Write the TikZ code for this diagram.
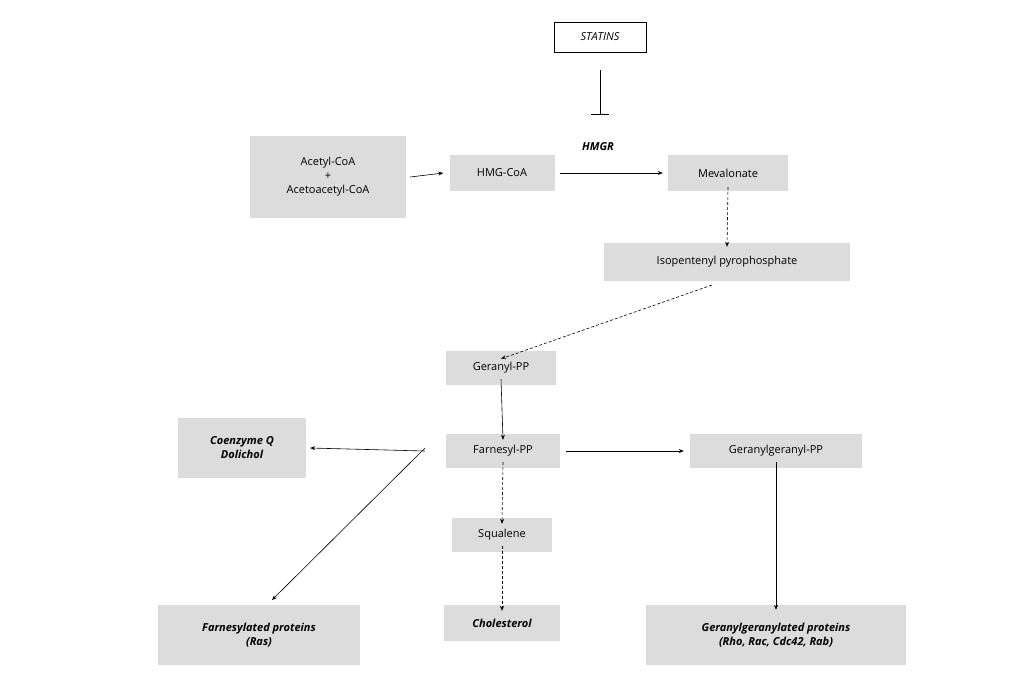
\documentclass[tikz,border=0pt]{standalone}
\usepackage{fontspec}
\setmainfont{Open Sans}
\usetikzlibrary{arrows.meta}
\definecolor{boxgray}{HTML}{DCDCDC}
\begin{document}
\begin{tikzpicture}[x=1pt,y=-1pt,
  mol/.style={fill=boxgray,inner sep=0pt,align=center,font=\fontsize{11}{14}\selectfont},
  emph/.style={font=\fontsize{11}{14}\selectfont\bfseries\itshape},
  arr/.style={-{Stealth[length=5pt,width=4pt]},line width=0.6pt},
  darr/.style={arr,dashed,dash pattern=on 3pt off 2pt}]
\useasboundingbox (0,0) rectangle (1024,675);
\node[draw,line width=0.6pt,minimum width=92pt,minimum height=30pt,font=\fontsize{11}{14}\selectfont\itshape] (statins) at (600,37) {STATINS};
\coordinate (inhtop) at (600,70);
\coordinate (inhbot) at (600,115);
\draw[line width=0.6pt,-{Bar[width=18pt]}] (inhtop) -- (inhbot);
\node[emph] (hmgr) at (598,147) {HMGR};
\node[mol,minimum width=156pt,minimum height=82pt] (acetyl) at (328,177) {Acetyl-CoA\\+\\Acetoacetyl-CoA};
\node[mol,minimum width=105pt,minimum height=36pt] (hmg) at (502,173) {HMG-CoA};
\node[mol,minimum width=120pt,minimum height=36pt] (mev) at (728,173) {Mevalonate};
\node[mol,minimum width=246pt,minimum height=38pt] (iso) at (727,262) {Isopentenyl pyrophosphate};
\node[mol,minimum width=110pt,minimum height=34pt] (ger) at (501,368) {Geranyl-PP};
\node[mol,minimum width=114pt,minimum height=34pt] (far) at (503,451) {Farnesyl-PP};
\node[mol,emph,minimum width=128pt,minimum height=60pt] (coq) at (242,448) {Coenzyme Q\\Dolichol};
\node[mol,minimum width=172pt,minimum height=34pt] (ggpp) at (776,451) {Geranylgeranyl-PP};
\node[mol,minimum width=100pt,minimum height=34pt] (squ) at (502,535) {Squalene};
\node[mol,emph,minimum width=202pt,minimum height=60pt] (farp) at (259,635) {Farnesylated proteins\\(Ras)};
\node[mol,emph,minimum width=116pt,minimum height=36pt] (chol) at (502,623) {Cholesterol};
\node[mol,emph,minimum width=260pt,minimum height=60pt] (ggp) at (776,635) {Geranylgeranylated proteins\\(Rho, Rac, Cdc42, Rab)};
\coordinate (split) at (425,448);
\draw[arr] ([xshift=4pt]acetyl.east) -- ([xshift=-6pt]hmg.west);
\draw[arr] ([xshift=5pt]hmg.east) -- ([xshift=-5pt]mev.west);
\draw[darr] ([yshift=4pt]mev.south) -- ([yshift=-4pt]iso.north);
\draw[darr] (712,285) -- ([yshift=-8pt]ger.north);
\draw[arr] ([yshift=6pt]ger.south) -- ([yshift=-6pt]far.north);
\draw[arr] ([xshift=-21pt]far.west) -- ([xshift=4pt]coq.east);
\draw[arr] (split) -- (272,600);
\draw[arr] ([xshift=6pt]far.east) -- ([xshift=-6pt]ggpp.west);
\draw[darr] ([yshift=6pt]far.south) -- ([yshift=-6pt]squ.north);
\draw[darr] ([yshift=6pt]squ.south) -- ([yshift=-6pt]chol.north);
\draw[arr] ([yshift=6pt]ggpp.south) -- ([yshift=-5pt]ggp.north);
\end{tikzpicture}
\end{document}
